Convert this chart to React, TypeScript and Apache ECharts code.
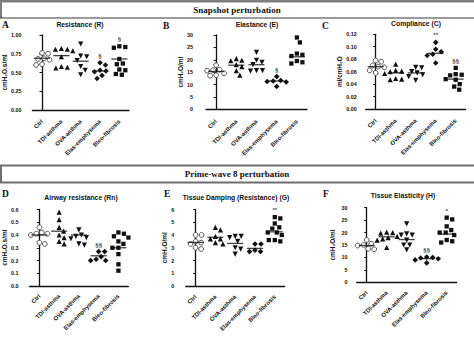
import React, { useEffect, useRef } from 'react';
import * as echarts from 'echarts';

const categories = ['Ctrl', 'TDI-asthma', 'OVA-asthma', 'Elas-emphysema', 'Bleo-fibrosis'];

// A: Resistance (R)
const resCtrl = [0.76, 0.75, 0.69, 0.68, 0.67, 0.61, 0.6];
const resTDI = [0.82, 0.81, 0.81, 0.79, 0.71, 0.58, 0.57, 0.56];
const resOVA = [0.88, 0.72, 0.71, 0.66, 0.58, 0.53, 0.47];
const resElas = [0.63, 0.6, 0.53, 0.52, 0.51, 0.46, 0.42];
const resBleo = [0.85, 0.84, 0.83, 0.68, 0.62, 0.61, 0.54, 0.53, 0.48, 0.47];
const resLines = [0.69, 0.725, 0.65, 0.52, 0.68];
const resNotes = ['', '', '', '§', '§'];

// B: Elastance (E)
const elaCtrl = [17.8, 16.0, 15.8, 15.6, 14.5, 13.8, 13.6];
const elaTDI = [20.5, 19.8, 19.6, 18.0, 17.2, 15.6, 13.8];
const elaOVA = [23.0, 19.8, 19.0, 18.0, 15.6, 15.4, 15.6];
const elaElas = [13.2, 11.6, 11.4, 11.2, 11.0, 9.2];
const elaBleo = [29.0, 27.0, 22.5, 22.0, 21.5, 21.5, 19.5, 19.0, 18.5, 18.0];
const elaLines = [15.3, 17.8, 18.0, 11.4, 21.2];
const elaNotes = ['', '', '', '§', '**'];

// C: Compliance (C)
const comCtrl = [0.078, 0.076, 0.07, 0.068, 0.067, 0.062, 0.058];
const comTDI = [0.072, 0.062, 0.061, 0.06, 0.057, 0.049, 0.048, 0.047];
const comOVA = [0.067, 0.066, 0.06, 0.058, 0.055, 0.052, 0.046];
const comElas = [0.107, 0.096, 0.092, 0.088, 0.086, 0.074];
const comBleo = [0.066, 0.056, 0.055, 0.054, 0.049, 0.048, 0.047, 0.04, 0.036, 0.031];
const comLines = [0.068, 0.058, 0.058, 0.0895, 0.048];
const comNotes = ['', '', '', '**', '§§'];

// D: Airway resistance (Rn)
const rnCtrl = [0.46, 0.42, 0.41, 0.41, 0.4, 0.34, 0.33];
const rnTDI = [0.58, 0.52, 0.46, 0.43, 0.4, 0.38, 0.35, 0.33];
const rnOVA = [0.44, 0.4, 0.39, 0.38, 0.37, 0.33, 0.32];
const rnElas = [0.27, 0.27, 0.23, 0.21, 0.2, 0.2];
const rnBleo = [0.42, 0.41, 0.39, 0.38, 0.35, 0.33, 0.3, 0.3, 0.25, 0.17, 0.12];
const rnLines = [0.4, 0.43, 0.4, 0.237, 0.3];
const rnNotes = ['', '', '', '§§', ''];

// E: Tissue Damping (G)
const gCtrl = [4.0, 4.0, 3.5, 3.4, 3.3, 3.0, 2.9];
const gTDI = [4.6, 4.4, 3.9, 3.7, 3.7, 3.4, 3.3];
const gOVA = [3.9, 3.9, 3.8, 3.5, 3.0, 2.9, 2.5];
const gElas = [3.3, 3.3, 2.8, 2.7, 2.7];
const gBleo = [5.4, 5.3, 4.9, 4.6, 4.5, 4.2, 4.2, 4.0, 3.6, 3.5, 3.6];
const gLines = [3.42, 3.82, 3.34, 2.95, 4.25];
const gNotes = ['', '', '', '', '**'];

// F: Tissue Elasticity (H)
const hCtrl = [17.0, 15.5, 15.0, 14.8, 13.5, 13.3, 13.0];
const hTDI = [20.2, 20.0, 19.8, 18.5, 18.0, 17.5, 17.0, 14.0];
const hOVA = [23.5, 19.5, 19.0, 19.0, 17.0, 15.0, 15.0, 13.0];
const hElas = [10.2, 10.0, 9.8, 9.5, 9.0, 7.8];
const hBleo = [26.0, 25.3, 22.5, 21.0, 20.0, 20.0, 19.0, 17.0, 16.5, 16.0];
const hLines = [14.8, 18.3, 17.2, 9.5, 19.4];
const hNotes = ['', '', '', '§§', '*'];

const yTicksA = { max: 1, interval: 0.25, digits: 2 };
const yTicksB = { max: 30, interval: 5, digits: 0 };
const yTicksC = { max: 0.12, interval: 0.02, digits: 2 };
const yTicksD = { max: 0.6, interval: 0.1, digits: 1 };
const yTicksE = { max: 6, interval: 1, digits: 0 };
const yTicksF = { max: 30, interval: 5, digits: 0 };

const SANS = '"Liberation Sans", Arial, sans-serif';
const SERIF = '"Liberation Serif", "Times New Roman", serif';
const INK = '#111111';

const panels = [
  { letter: 'A', title: 'Resistance (R)', yName: 'cmH₂O.s/ml', ticks: yTicksA, groups: [resCtrl, resTDI, resOVA, resElas, resBleo], lines: resLines, notes: resNotes,
    lay: { left: 32, top: 35, width: 97, height: 75, yOff: 8.5, xOff: 8, nameGap: 15, lx: 2, ly: 24.5, tx: 80, ty: 24.5 } },
  { letter: 'B', title: 'Elastance (E)', yName: 'cmH₂O/ml', ticks: yTicksB, groups: [elaCtrl, elaTDI, elaOVA, elaElas, elaBleo], lines: elaLines, notes: elaNotes,
    lay: { left: 206, top: 35, width: 101, height: 74.3, yOff: 10.5, xOff: 8.7, nameGap: 7, lx: 163, ly: 25.5, tx: 257, ty: 24 } },
  { letter: 'C', title: 'Compliance (C)', yName: 'ml/cmH₂O', ticks: yTicksC, groups: [comCtrl, comTDI, comOVA, comElas, comBleo], lines: comLines, notes: comNotes,
    lay: { left: 365.7, top: 34.3, width: 100, height: 74.7, yOff: 6.4, xOff: 8.3, nameGap: 16.5, lx: 322, ly: 26, tx: 416, ty: 23.3 } },
  { letter: 'D', title: 'Airway resistance (Rn)', yName: 'cmH₂O.s/ml', ticks: yTicksD, groups: [rnCtrl, rnTDI, rnOVA, rnElas, rnBleo], lines: rnLines, notes: rnNotes,
    lay: { left: 29.3, top: 209.5, width: 99, height: 76.5, yOff: 8.6, xOff: 6.7, nameGap: 12, lx: 2, ly: 193.5, tx: 81, ty: 197.8 } },
  { letter: 'E', title: 'Tissue Damping (Resistance) (G)', yName: 'cmH₂O/ml', ticks: yTicksE, groups: [gCtrl, gTDI, gOVA, gElas, gBleo], lines: gLines, notes: gNotes,
    lay: { left: 185.7, top: 209.5, width: 99, height: 76.5, yOff: 9, xOff: 7.3, nameGap: 7, lx: 164, ly: 194, tx: 236, ty: 197.5 } },
  { letter: 'F', title: 'Tissue Elasticity (H)', yName: 'cmH₂O/ml', ticks: yTicksF, groups: [hCtrl, hTDI, hOVA, hElas, hBleo], lines: hLines, notes: hNotes,
    lay: { left: 356.7, top: 207.7, width: 100, height: 74.6, yOff: 6.7, xOff: 7, nameGap: 14.5, lx: 323, ly: 194, tx: 403, ty: 195.5 } },
];

const symbols = [
  { symbol: 'circle', size: 4.8, rotate: 0, fill: '#ffffff', stroke: '#444444', bw: 0.9 },
  { symbol: 'triangle', size: 5.2, rotate: 0, fill: INK, stroke: INK, bw: 0 },
  { symbol: 'triangle', size: 5.2, rotate: 180, fill: INK, stroke: INK, bw: 0 },
  { symbol: 'diamond', size: 5.6, rotate: 0, fill: INK, stroke: INK, bw: 0 },
  { symbol: 'rect', size: 4.3, rotate: 0, fill: INK, stroke: INK, bw: 0 },
];

// beeswarm layout: offsets (in x units) computed from values so dots don't overlap
function swarm(values: number[], pxPerY: number, pxPerX: number, size: number): number[] {
  const order = values.map((_, i) => i).sort((a, b) => values[b] - values[a]);
  const placed: { x: number; y: number }[] = [];
  const out: number[] = new Array(values.length).fill(0);
  for (const i of order) {
    const y = values[i] * pxPerY;
    let chosen = 0;
    for (let k = 0; k < 80; k++) {
      const c = (k % 2 === 1 ? 1 : -1) * Math.ceil(k / 2) * 0.5;
      let ok = true;
      for (const p of placed) {
        const dx = p.x - c;
        const dy = p.y - y;
        if (dx * dx + dy * dy < size * size) { ok = false; break; }
      }
      if (ok) { chosen = c; break; }
    }
    placed.push({ x: chosen, y });
    out[i] = chosen / pxPerX;
  }
  return out;
}

function buildOption() {
  const grid: any[] = [];
  const xAxis: any[] = [];
  const yAxis: any[] = [];
  const series: any[] = [];
  const graphic: any[] = [];

  panels.forEach((p, pi) => {
    const L = p.lay;
    grid.push({ left: L.left, top: L.top, width: L.width, height: L.height, containLabel: false });
    xAxis.push({
      type: 'category', gridIndex: pi, data: categories, offset: L.xOff,
      axisLine: { lineStyle: { color: INK, width: 1.3 } },
      axisTick: { alignWithLabel: true, length: 2.5, lineStyle: { color: INK, width: 1 } },
      axisLabel: { rotate: 45, interval: 0, fontSize: 5.9, fontWeight: 'bold', fontFamily: SANS, color: INK, margin: 2.5 },
      splitLine: { show: false },
    });
    xAxis.push({ type: 'value', gridIndex: pi, min: -0.5, max: 4.5, show: false });
    yAxis.push({
      type: 'value', gridIndex: pi, min: 0, max: p.ticks.max, interval: p.ticks.interval, offset: L.yOff,
      name: p.yName, nameLocation: 'middle', nameGap: L.nameGap,
      nameTextStyle: { fontSize: 6.4, fontWeight: 'bold', fontFamily: SANS, color: INK },
      axisLine: { show: true, lineStyle: { color: INK, width: 1.3 } },
      axisTick: { show: true, length: 2.5, lineStyle: { color: INK, width: 1 } },
      axisLabel: { fontSize: 5.4, fontWeight: 'bold', fontFamily: SANS, color: INK, margin: 2.5,
        formatter: (v: number) => v.toFixed(p.ticks.digits) },
      splitLine: { show: false },
    });
    const xIdx = pi * 2 + 1;
    const pxPerY = L.height / p.ticks.max;
    const pxPerX = L.width / categories.length;
    p.groups.forEach((vals, gi) => {
      const s = symbols[gi];
      const offs = swarm(vals, pxPerY, pxPerX, 5.6);
      series.push({
        type: 'scatter', xAxisIndex: xIdx, yAxisIndex: pi, symbol: s.symbol, symbolSize: s.size, symbolRotate: s.rotate,
        itemStyle: { color: s.fill, borderColor: s.stroke, borderWidth: s.bw, opacity: 1 },
        data: vals.map((v, k) => [gi + offs[k], v]), silent: true, z: 3,
      });
    });
    series.push({
      type: 'scatter', xAxisIndex: xIdx, yAxisIndex: pi, symbol: 'rect', symbolSize: [16, 1.3],
      itemStyle: { color: INK }, data: p.lines.map((v, gi) => [gi, v]), silent: true, z: 4,
    });
    const noteData: any[] = [];
    p.notes.forEach((t, gi) => {
      if (!t) return;
      const top = Math.max(...p.groups[gi]);
      noteData.push({ value: [gi, top + 7 / pxPerY], name: t });
    });
    series.push({
      type: 'scatter', xAxisIndex: xIdx, yAxisIndex: pi, symbolSize: 0.01,
      label: { show: true, position: 'inside', formatter: (d: any) => d.name, fontSize: 6, fontWeight: 'bold', fontFamily: SANS, color: INK },
      data: noteData, silent: true, z: 5,
    });
    graphic.push({ type: 'text', x: L.lx, y: L.ly, style: { text: p.letter, font: `bold 9.5px ${SERIF}`, fill: INK, align: 'left', verticalAlign: 'middle' } });
    graphic.push({ type: 'text', x: L.tx, y: L.ty, style: { text: p.title, font: `bold 6.8px ${SANS}`, fill: INK, align: 'center', verticalAlign: 'middle' } });
  });

  // banners
  graphic.push({ type: 'line', shape: { x1: 0, y1: 1.2, x2: 474, y2: 1.2 }, style: { stroke: '#7d7d7d', lineWidth: 2.5 } });
  graphic.push({ type: 'line', shape: { x1: 1, y1: 0, x2: 1, y2: 18 }, style: { stroke: '#7d7d7d', lineWidth: 2 } });
  graphic.push({ type: 'line', shape: { x1: 0, y1: 18, x2: 474, y2: 18 }, style: { stroke: '#3a3a3a', lineWidth: 1.2 } });
  graphic.push({ type: 'text', x: 237, y: 10, style: { text: 'Snapshot perturbation', font: `bold 9px ${SERIF}`, fill: INK, align: 'center', verticalAlign: 'middle' } });
  graphic.push({ type: 'line', shape: { x1: 0, y1: 165.5, x2: 474, y2: 165.5 }, style: { stroke: '#6e6e6e', lineWidth: 2 } });
  graphic.push({ type: 'line', shape: { x1: 1, y1: 165, x2: 1, y2: 183 }, style: { stroke: '#6e6e6e', lineWidth: 2 } });
  graphic.push({ type: 'line', shape: { x1: 0, y1: 182.5, x2: 474, y2: 182.5 }, style: { stroke: '#6e6e6e', lineWidth: 2 } });
  graphic.push({ type: 'text', x: 237, y: 174, style: { text: 'Prime-wave 8 perturbation', font: `bold 9px ${SERIF}`, fill: INK, align: 'center', verticalAlign: 'middle' } });

  return { animation: false, backgroundColor: '#ffffff', grid, xAxis, yAxis, series, graphic };
}

export default function App() {
  const ref = useRef<HTMLDivElement>(null);
  useEffect(() => {
    if (!ref.current) return;
    const chart = echarts.init(ref.current, undefined, { renderer: 'svg' });
    chart.setOption(buildOption() as any);
    return () => chart.dispose();
  }, []);
  return <div ref={ref} style={{ position: 'absolute', left: 0, top: 0, width: 474, height: 338, background: '#fff' }} />;
}
